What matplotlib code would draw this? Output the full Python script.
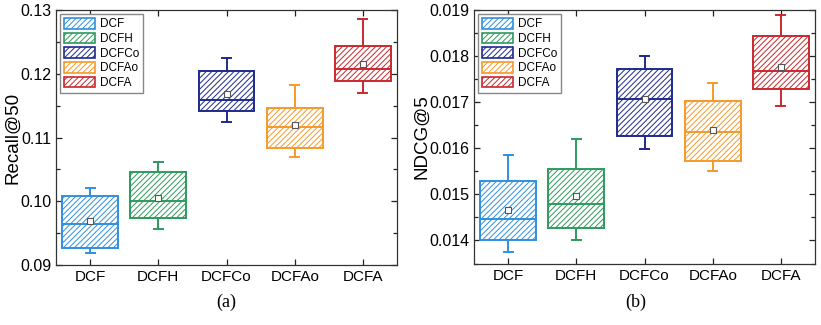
import matplotlib
matplotlib.use("Agg")
import matplotlib.pyplot as plt
from matplotlib.patches import Patch
from matplotlib.ticker import MultipleLocator

plt.rcParams['font.family'] = ['Liberation Sans', 'DejaVu Sans']
plt.rcParams['hatch.linewidth'] = 0.7

categories = ["DCF", "DCFH", "DCFCo", "DCFAo", "DCFA"]
colors = ["#2f8fe0", "#2e9a5c", "#1f2a8c", "#f5992a", "#c9282d"]

# Recall@50: whisker low, q1, median, q3, whisker high, mean
recall_wlo = [0.0919, 0.0957, 0.1125, 0.1070, 0.1170]
recall_q1 = [0.0926, 0.0973, 0.1141, 0.1084, 0.1188]
recall_med = [0.0965, 0.1000, 0.1159, 0.1117, 0.1208]
recall_q3 = [0.1009, 0.1046, 0.1204, 0.1147, 0.1244]
recall_whi = [0.1021, 0.1062, 0.1224, 0.1183, 0.1286]
recall_mean = [0.0969, 0.1005, 0.1168, 0.1119, 0.1216]

# NDCG@5
ndcg_wlo = [0.01376, 0.01402, 0.01598, 0.01550, 0.01691]
ndcg_q1 = [0.01401, 0.01427, 0.01626, 0.01573, 0.01728]
ndcg_med = [0.01446, 0.01480, 0.01707, 0.01636, 0.01767]
ndcg_q3 = [0.01529, 0.01554, 0.01772, 0.01703, 0.01844]
ndcg_whi = [0.01585, 0.01621, 0.01801, 0.01741, 0.01889]
ndcg_mean = [0.01467, 0.01496, 0.01706, 0.01640, 0.01776]

fig = plt.figure(figsize=(8.21, 3.25), dpi=100)
ax1 = fig.add_axes([56/821, 60/325, 341/821, 255/325])
ax2 = fig.add_axes([474/821, 61/325, 341/821, 254/325])

HATCH = '//////'


def draw(ax, wlo, q1, med, q3, whi, mean, ylim, major, minor, ylabel, fmt, labelx):
    stats = []
    for i in range(len(categories)):
        stats.append(dict(label=categories[i], whislo=wlo[i], q1=q1[i], med=med[i],
                          q3=q3[i], whishi=whi[i], mean=mean[i], fliers=[]))
    positions = list(range(1, len(categories) + 1))
    bp = ax.bxp(stats, positions=positions, widths=0.82, patch_artist=True,
                showmeans=True, capwidths=0.13)
    for i, c in enumerate(colors):
        box = bp['boxes'][i]
        box.set_facecolor('white')
        box.set_edgecolor(c)
        box.set_hatch(HATCH)
        box.set_linewidth(1.4)
        bp['medians'][i].set_color(c)
        bp['medians'][i].set_linewidth(1.4)
        for w in bp['whiskers'][2*i:2*i+2]:
            w.set_color(c)
            w.set_linewidth(1.4)
        for cp in bp['caps'][2*i:2*i+2]:
            cp.set_color(c)
            cp.set_linewidth(1.4)
        m = bp['means'][i]
        m.set_marker('s')
        m.set_markerfacecolor('white')
        m.set_markeredgecolor('#555555')
        m.set_markersize(4.5)
        m.set_markeredgewidth(0.8)
    ax.set_xlim(0.5, 5.5)
    ax.set_ylim(*ylim)
    ax.yaxis.set_major_locator(MultipleLocator(major))
    ax.yaxis.set_minor_locator(MultipleLocator(minor))
    ax.yaxis.set_major_formatter(matplotlib.ticker.FormatStrFormatter(fmt))
    ax.tick_params(axis='both', which='both', direction='in', top=True, right=True,
                   color='#222222')
    ax.tick_params(axis='y', labelsize=11.5)
    ax.tick_params(axis='x', labelsize=11)
    ax.tick_params(axis='x', which='minor', top=False, bottom=False)
    ax.tick_params(which='major', length=4, width=0.9)
    ax.tick_params(which='minor', length=3, width=0.9)
    ax.set_xticks(positions)
    ax.set_xticklabels(categories)
    ax.set_ylabel(ylabel, fontsize=13.5, va='center')
    ax.yaxis.set_label_coords(labelx, 0.5)
    for s in ax.spines.values():
        s.set_color('#333333')
        s.set_linewidth(0.9)
    handles = [Patch(facecolor='white', edgecolor=c, hatch=HATCH, linewidth=1.2, label=l)
               for c, l in zip(colors, categories)]
    ax.legend(handles=handles, loc='upper left', fontsize=8.5, fancybox=False,
              edgecolor='#888888', framealpha=1, handlelength=2.6, handleheight=1.0,
              labelspacing=0.2, borderpad=0.35, handletextpad=0.4,
              bbox_to_anchor=(0.012, 0.985), borderaxespad=0)


draw(ax1, recall_wlo, recall_q1, recall_med, recall_q3, recall_whi, recall_mean,
     (0.09, 0.13), 0.01, 0.005, "Recall@50", "%.2f", (13 - 56) / 341)
draw(ax2, ndcg_wlo, ndcg_q1, ndcg_med, ndcg_q3, ndcg_whi, ndcg_mean,
     (0.01349, 0.019), 0.001, 0.0005, "NDCG@5", "%.3f", (422 - 474) / 341)

fig.text(226/821, 1 - 302/325, "(a)", ha='center', va='center', fontsize=13,
         family='Liberation Serif')
fig.text(636/821, 1 - 302/325, "(b)", ha='center', va='center', fontsize=13,
         family='Liberation Serif')

fig.savefig("out.png", dpi=100)
